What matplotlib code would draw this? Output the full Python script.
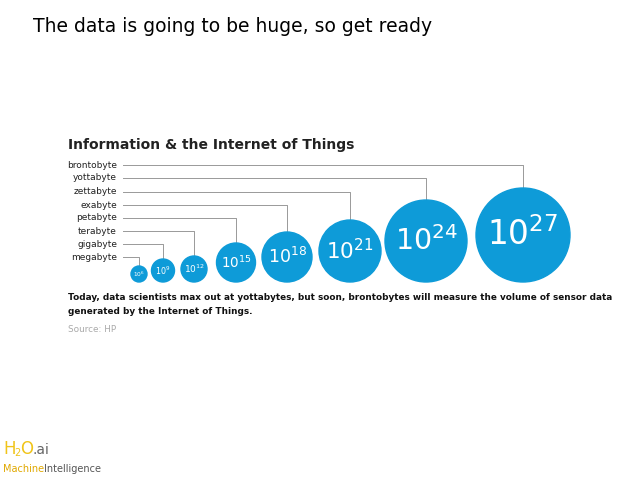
import matplotlib.pyplot as plt
from matplotlib.patches import Circle

units = ['megabyte', 'gigabyte', 'terabyte', 'petabyte', 'exabyte',
         'zettabyte', 'yottabyte', 'brontobyte']
exponents = [6, 9, 12, 15, 18, 21, 24, 27]

# layout in pixel space
cx = [139, 163, 194, 236, 287, 350, 426, 523]
rad = [8, 11.5, 13, 19.5, 25, 31, 41, 47]
bottom = 282
label_y = [257, 244, 231, 218, 205, 192, 178, 165]
blue = '#0e9bd8'

fig = plt.figure(figsize=(6.38, 4.78), dpi=100)
ax = fig.add_axes([0, 0, 1, 1])
ax.set_xlim(0, 638)
ax.set_ylim(478, 0)
ax.axis('off')

fig.text(33 / 638, 1 - 27 / 478, 'The data is going to be huge, so get ready',
         fontsize=13.5, va='center', ha='left')

ax.text(68, 145, 'Information & the Internet of Things', fontsize=10,
        fontweight='bold', va='center', color='#222222')

for u, e, x, r, ly in zip(units, exponents, cx, rad, label_y):
    cy = bottom - r
    ax.add_patch(Circle((x, cy), r, color=blue, zorder=2))
    ax.text(117, ly, u, fontsize=6.5, ha='right', va='center', color='#222222')
    ax.plot([123, x, x], [ly, ly, cy - r], color='#999999', lw=0.7, zorder=1)
    fs = max(4.2, r * 0.5)
    ax.text(x, cy, r'$\mathregular{10^{%d}}$' % e, fontsize=fs, color='white',
            ha='center', va='center', zorder=3)

ax.text(68, 298, 'Today, data scientists max out at yottabytes, but soon, '
        'brontobytes will measure the volume of sensor data',
        fontsize=6.4, fontweight='bold', va='center', color='#111111')
ax.text(68, 312, 'generated by the Internet of Things.',
        fontsize=6.4, fontweight='bold', va='center', color='#111111')
ax.text(68, 329, 'Source: HP', fontsize=6.4, va='center', color='#aaaaaa')

ax.text(3, 449, 'H', fontsize=12, color='#f0c419', va='center')
ax.text(14, 453, '2', fontsize=7, color='#f0c419', va='center')
ax.text(20, 449, 'O', fontsize=12, color='#f0c419', va='center')
ax.text(32, 450, '.ai', fontsize=10, color='#666666', va='center')
ax.text(3, 469, 'Machine', fontsize=7, color='#e0a800', va='center')
ax.text(44, 469, 'Intelligence', fontsize=7, color='#555555', va='center')

fig.savefig('out.png', dpi=100)
